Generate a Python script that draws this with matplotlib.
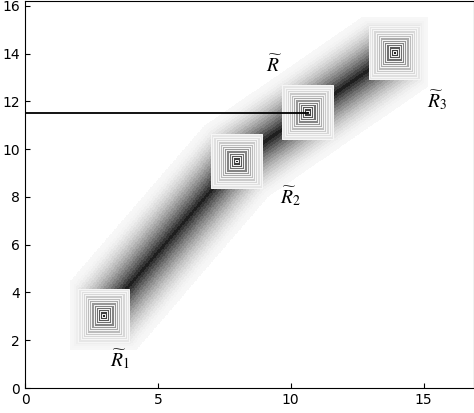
import numpy as np
import matplotlib.pyplot as plt
from matplotlib.collections import PolyCollection

plt.rcParams['mathtext.fontset'] = 'stix'

# centres of the highlighted regions
cx = [2.96, 7.96, 10.64, 13.9]
cy = [3.05, 9.5, 11.55, 14.05]
labels = [r'$\widetilde{R}_1$', r'$\widetilde{R}_2$', r'$\widetilde{R}_3$', r'$\widetilde{R}$']
lab_x = [3.57, 10.0, 15.5, 9.36]
lab_y = [1.2, 8.05, 12.05, 13.5]
line_y = 11.5

fig = plt.figure(figsize=(4.74, 4.13), dpi=100)
ax = fig.add_axes([25/474, 25/413, 1 - 25/474, 387/413])

def squares(xs, ys, h):
    hy = h * 28 / 23.9
    return [[(x - h, y - hy), (x + h, y - hy), (x + h, y + hy), (x - h, y + hy)]
            for x, y in zip(xs, ys)]

# band: sample centres along the path
seg = np.linspace(0, 3, 300)
bx = np.interp(seg, [0, 1, 2, 3], cx)
by = np.interp(seg, [0, 1, 2, 3], cy)

nlay = 18
frac = np.linspace(0, 1, nlay)
sizes = 1.2 * (1 - frac) + 0.05
grays = 0.97 - 0.85 * frac ** 1.8
for s, g in zip(sizes, grays):
    ax.add_collection(PolyCollection(squares(bx, by, s), facecolors=str(g), edgecolors='none'))

# highlighted nested squares with white rims
nsq = 12
for x, y in zip(cx, cy):
    f = np.linspace(0, 1, nsq)
    for s, g in zip(0.95 - 0.9 * f, 0.9 - 0.75 * f ** 1.5):
        ax.add_collection(PolyCollection(squares([x], [y], s), facecolors=str(g),
                                         edgecolors='0.97', linewidths=0.7))

ax.plot([0, cx[2]], [line_y, line_y], color='black', lw=1.3)

for t, x, y in zip(labels, lab_x, lab_y):
    ax.text(x, y, t, fontsize=14, ha='center', va='center')

ax.set_xlim(0, 16.9)
ax.set_ylim(0, 16.2)
ax.set_xticks([0, 5, 10, 15])
ax.set_yticks(range(0, 17, 2))
ax.tick_params(direction='in', labelsize=10)
fig.savefig('out.png')
